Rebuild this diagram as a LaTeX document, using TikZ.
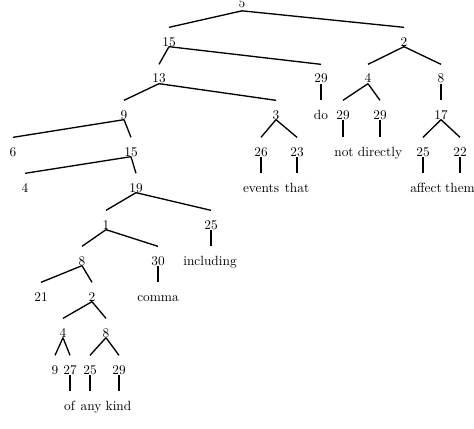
\documentclass[tikz,border=0pt]{standalone}
\usepackage{tikz}

\tikzset{tok/.style={anchor=base, inner sep=0pt, text height=13.5pt, text depth=0pt}}

\begin{document}
\begin{tikzpicture}[x=0.75pt, y=-0.75pt, line width=1pt]
\useasboundingbox (0, 0) rectangle (474, 428);
% numbers, row by row
\node[tok] (root) at (242, 7.5) {5};
\node[tok] (a15) at (169, 46) {15};
\node[tok] (a2) at (404, 46) {2};
\node[tok] (b13) at (159, 83) {13};
\node[tok] (b29) at (321, 83) {29};
\node[tok] (b4) at (368, 83) {4};
\node[tok] (b8) at (441, 83) {8};
\node[tok] (c9) at (124, 119) {9};
\node[tok] (c3) at (276, 119) {3};
\node[tok] (c29x) at (343, 119) {29};
\node[tok] (c29y) at (380, 119) {29};
\node[tok] (c17) at (441, 119) {17};
\node[tok] (d6) at (13, 156) {6};
\node[tok] (d15) at (131, 156) {15};
\node[tok] (d26) at (261, 156) {26};
\node[tok] (d23) at (297, 156) {23};
\node[tok] (d25) at (423, 156) {25};
\node[tok] (d22) at (460, 156) {22};
\node[tok] (e4) at (25, 192) {4};
\node[tok] (e19) at (136, 192) {19};
\node[tok] (f1) at (106, 229) {1};
\node[tok] (f25) at (211, 229) {25};
\node[tok] (g8) at (82, 265) {8};
\node[tok] (g30) at (158, 265) {30};
\node[tok] (h21) at (41, 301) {21};
\node[tok] (h2) at (92, 301) {2};
\node[tok] (i4) at (63, 337) {4};
\node[tok] (i8) at (106, 337) {8};
\node[tok] (j9) at (55, 374) {9};
\node[tok] (j27) at (70, 374) {27};
\node[tok] (j25) at (90, 374) {25};
\node[tok] (j29) at (119, 374) {29};
% words
\node[tok] (wdo) at (321, 119) {do};
\node[tok] (wnot) at (344, 156) {not};
\node[tok] (wdirectly) at (380, 156) {directly};
\node[tok] (wevents) at (261, 192) {events};
\node[tok] (wthat) at (297, 192) {that};
\node[tok] (waffect) at (426, 192) {affect};
\node[tok] (wthem) at (460, 192) {them};
\node[tok] (wincluding) at (210, 265) {including};
\node[tok] (wcomma) at (158, 301) {comma};
\node[tok] (wof) at (69.5, 410) {of};
\node[tok] (wany) at (91, 410) {any};
\node[tok] (wkind) at (118.5, 410) {kind};
% branches
\draw ([yshift=-2pt]root.south) -- (a15.north);
\draw ([yshift=-2pt]root.south) -- (a2.north);
\draw (a15.south) -- (b13.north);
\draw (a15.south) -- (b29.north);
\draw (a2.south) -- (b4.north);
\draw (a2.south) -- (b8.north);
\draw (b13.south) -- (c9.north);
\draw (b13.south) -- (c3.north);
\draw (b4.south) -- (c29x.north);
\draw (b4.south) -- (c29y.north);
\draw (b8.south) -- (c17.north);
\draw (c9.south) -- (d6.north);
\draw (c9.south) -- (d15.north);
\draw (c3.south) -- (d26.north);
\draw (c3.south) -- (d23.north);
\draw (c17.south) -- (d25.north);
\draw (c17.south) -- (d22.north);
\draw (d15.south) -- (e4.north);
\draw (d15.south) -- (e19.north);
\draw (e19.south) -- (f1.north);
\draw (e19.south) -- (f25.north);
\draw (f1.south) -- (g8.north);
\draw (f1.south) -- (g30.north);
\draw (g8.south) -- (h21.north);
\draw (g8.south) -- (h2.north);
\draw (h2.south) -- (i4.north);
\draw (h2.south) -- (i8.north);
\draw (i4.south) -- (j9.north);
\draw (i4.south) -- (j27.north);
\draw (i8.south) -- (j25.north);
\draw (i8.south) -- (j29.north);
% leaves down to their words
\draw (b29.south) -- (b29.south |- wdo.north);
\draw (c29x.south) -- (c29x.south |- wnot.north);
\draw (c29y.south) -- (c29y.south |- wdirectly.north);
\draw (d26.south) -- (d26.south |- wevents.north);
\draw (d23.south) -- (d23.south |- wthat.north);
\draw (d25.south) -- (d25.south |- waffect.north);
\draw (d22.south) -- (d22.south |- wthem.north);
\draw (f25.south) -- (f25.south |- wincluding.north);
\draw (g30.south) -- (g30.south |- wcomma.north);
\draw (j27.south) -- (j27.south |- wof.north);
\draw (j25.south) -- (j25.south |- wany.north);
\draw (j29.south) -- (j29.south |- wkind.north);
\end{tikzpicture}
\end{document}
